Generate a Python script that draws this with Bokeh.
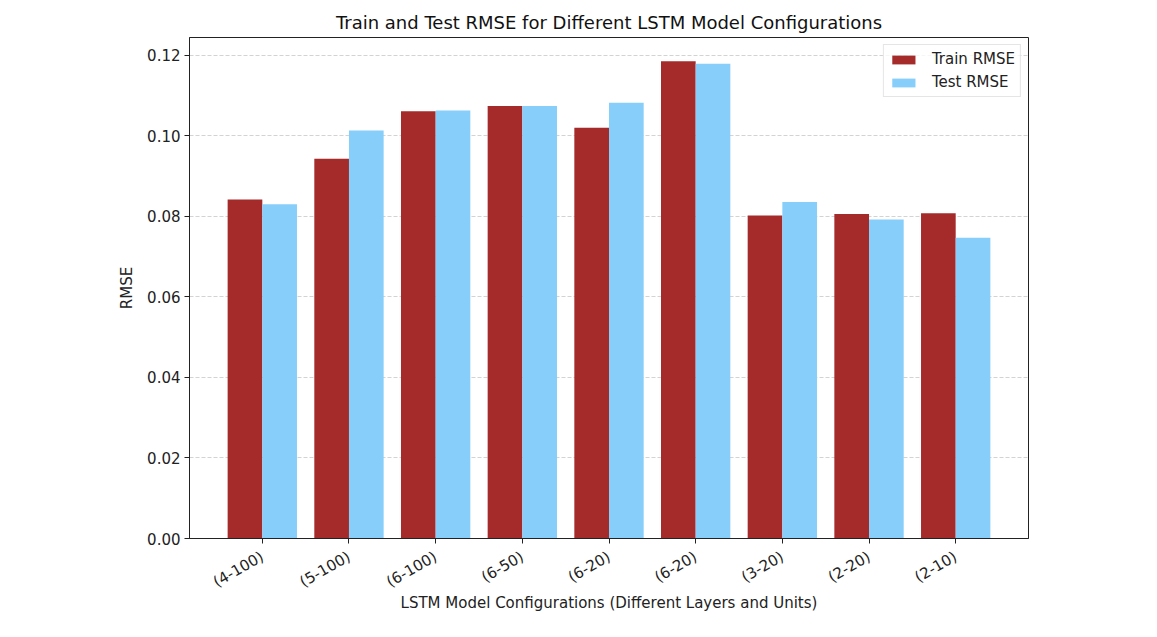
import math
from bokeh.plotting import figure
from bokeh.models import Range1d, FixedTicker, NumeralTickFormatter, Legend, LegendItem, ColumnDataSource
from bokeh.embed import file_html
from bokeh.resources import INLINE

configs = ["(4-100)", "(5-100)", "(6-100)", "(6-50)", "(6-20)", "(6-20)", "(3-20)", "(2-20)", "(2-10)"]
train_rmse = [0.0842, 0.0943, 0.1061, 0.1074, 0.1020, 0.1185, 0.0802, 0.0806, 0.0808]
test_rmse = [0.0830, 0.1013, 0.1063, 0.1074, 0.1082, 0.1179, 0.0836, 0.0792, 0.0747]
y_ticks = [0.0, 0.02, 0.04, 0.06, 0.08, 0.10, 0.12]

bar_w = 0.4
idx = list(range(len(configs)))
src = ColumnDataSource(dict(
    x_train=[i - bar_w / 2 for i in idx],
    x_test=[i + bar_w / 2 for i in idx],
    train=train_rmse,
    test=test_rmse,
))

FONT = "DejaVu Sans"
n = len(configs)
x_pad = 0.05 * ((n - 1 + bar_w) - (-bar_w))
ymax = max(max(train_rmse), max(test_rmse)) * 1.05

p = figure(width=1141, height=621, output_backend="svg", toolbar_location=None,
           x_range=Range1d(-bar_w - x_pad, n - 1 + bar_w + x_pad),
           y_range=Range1d(0, ymax),
           title="Train and Test RMSE for Different LSTM Model Configurations",
           min_border_left=189, min_border_right=113, min_border_top=37, min_border_bottom=83)

r1 = p.vbar(x="x_train", top="train", width=bar_w, source=src, fill_color="#A52A2A", line_color=None)
r2 = p.vbar(x="x_test", top="test", width=bar_w, source=src, fill_color="#87CEFA", line_color=None)

p.title.align = "center"
p.title.text_font = FONT
p.title.text_font_size = "18px"
p.title.text_font_style = "normal"
p.title.text_color = "#111111"
p.title.standoff = 10

p.outline_line_color = "#222222"
p.outline_line_width = 1

p.xgrid.visible = False
p.ygrid.ticker = FixedTicker(ticks=y_ticks)
p.ygrid.grid_line_color = "#c8c8c8"
p.ygrid.grid_line_dash = "4 2"
p.ygrid.grid_line_width = 0.8

p.xaxis.ticker = FixedTicker(ticks=idx)
p.xaxis.major_label_overrides = {i: c for i, c in enumerate(configs)}
p.xaxis.major_label_orientation = math.pi / 6
p.xaxis.axis_label = "LSTM Model Configurations (Different Layers and Units)"

p.yaxis.ticker = FixedTicker(ticks=y_ticks)
p.yaxis.formatter = NumeralTickFormatter(format="0.00")
p.yaxis.axis_label = "RMSE"

for ax in (p.xaxis[0], p.yaxis[0]):
    ax.axis_line_color = "#222222"
    ax.major_tick_line_color = "#222222"
    ax.major_tick_out = 5
    ax.major_tick_in = 0
    ax.minor_tick_line_color = None
    ax.major_label_standoff = 4
    ax.major_label_text_font = FONT
    ax.major_label_text_font_size = "15px"
    ax.major_label_text_color = "#222222"
    ax.axis_label_text_font = FONT
    ax.axis_label_text_font_size = "15px"
    ax.axis_label_text_font_style = "normal"
    ax.axis_label_text_color = "#222222"
    ax.axis_label_standoff = 8

p.xaxis.major_label_standoff = 12
p.xaxis.axis_label_standoff = -8

legend = Legend(items=[LegendItem(label="Train RMSE", renderers=[r1]),
                       LegendItem(label="Test RMSE", renderers=[r2])],
                location="top_right")
legend.margin = 7
legend.padding = 5
legend.glyph_width = 29
legend.glyph_height = 11
legend.label_height = 18
legend.label_standoff = 14
legend.spacing = 5
legend.label_text_font = FONT
legend.label_text_font_size = "15px"
legend.label_text_color = "#222222"
legend.border_line_color = "#cccccc"
legend.border_line_width = 1
legend.background_fill_alpha = 0.8
p.add_layout(legend)

open("out.html", "w").write(file_html(p, INLINE))
